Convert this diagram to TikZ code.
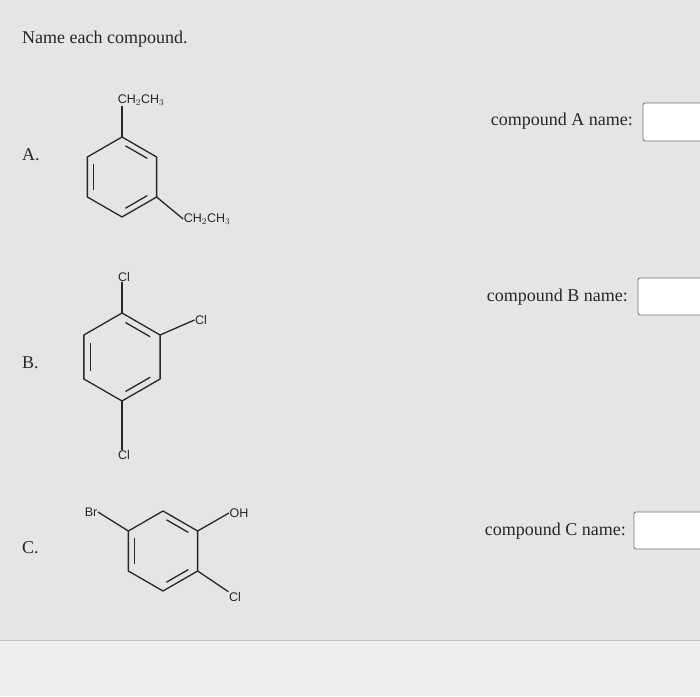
\documentclass[tikz,border=0pt]{standalone}
\usepackage{fontspec}
\setmainfont{Liberation Serif}
\setsansfont{Liberation Sans}
\usetikzlibrary{calc}
\newcommand{\hexring}[4]{%
 \foreach \i/\a in {1/-90,2/-30,3/30,4/90,5/150,6/210}
   \coordinate (#1\i) at ($(#2,#3)+(\a:#4)$);
 \coordinate (#1c) at (#2,#3);
 \draw[bond] (#11)--(#12)--(#13)--(#14)--(#15)--(#16)--cycle;}
\newcommand{\inner}[3]{%
 \draw[bond,shorten <=4pt,shorten >=4pt] ($(#1#2)!0.17!(#1c)$) -- ($(#1#3)!0.17!(#1c)$);}
\begin{document}
\begin{tikzpicture}[x=1pt,y=-1pt,
  bond/.style={line width=1.3pt,black!85,line join=round},
  lbl/.style={font=\sffamily\fontsize{12.5}{13}\selectfont,inner sep=0.5pt,text=black!85},
  txt/.style={font=\fontsize{18}{20}\selectfont,inner sep=0pt,anchor=west,text=black!85},
  ansbox/.style={draw=black!55,line width=0.8pt,fill=white,rounded corners=2pt}]
\useasboundingbox (0,0) rectangle (700,696);
\fill[black!10] (0,0) rectangle (700,696);
\fill[black!7] (0,640) rectangle (700,696);
\draw[black!25,line width=1pt] (0,640) -- (700,640);
\node[txt] (title) at (22,39) {Name each compound.};
\node[txt] (la) at (22,155) {A.};
\node[txt] (lb) at (22,363) {B.};
\node[txt] (lc) at (22,548) {C.};
\node[txt,anchor=east] (qa) at (633,121) {compound A name:};
\node[txt,anchor=east] (qb) at (628,297) {compound B name:};
\node[txt,anchor=east] (qc) at (626,531) {compound C name:};
\draw[ansbox] (643,103) rectangle (712,141);
\draw[ansbox] (638,278) rectangle (712,315);
\draw[ansbox] (634,512) rectangle (712,549);
% Molecule A
\hexring{a}{122}{177}{40}
\inner{a}{1}{2}\inner{a}{5}{6}\inner{a}{3}{4}
\node[lbl] (a7) at (141,100) {CH$_2$CH$_3$};
\node[lbl] (a8) at (207,219) {CH$_2$CH$_3$};
\draw[bond] (a1) -- (a1 |- a7.south);
\draw[bond] (a3) -- (a8.west);
% Molecule B
\hexring{b}{122}{357}{44}
\inner{b}{1}{2}\inner{b}{5}{6}\inner{b}{3}{4}
\node[lbl] (b7) at (124,277) {Cl};
\node[lbl] (b8) at (201,320) {Cl};
\node[lbl] (b9) at (124,455) {Cl};
\draw[bond] (b1) -- (b1 |- b7.south);
\draw[bond] (b2) -- (b8.west);
\draw[bond] (b4) -- (b4 |- b9.north);
% Molecule C
\hexring{c}{163}{551}{40}
\inner{c}{1}{2}\inner{c}{5}{6}\inner{c}{3}{4}
\node[lbl] (c7) at (91,512) {Br};
\node[lbl] (c8) at (239,513) {OH};
\node[lbl] (c9) at (235,597) {Cl};
\draw[bond] (c6) -- (c7.east);
\draw[bond] (c2) -- (c8.west);
\draw[bond] (c3) -- (c9.north west);
\end{tikzpicture}
\end{document}
